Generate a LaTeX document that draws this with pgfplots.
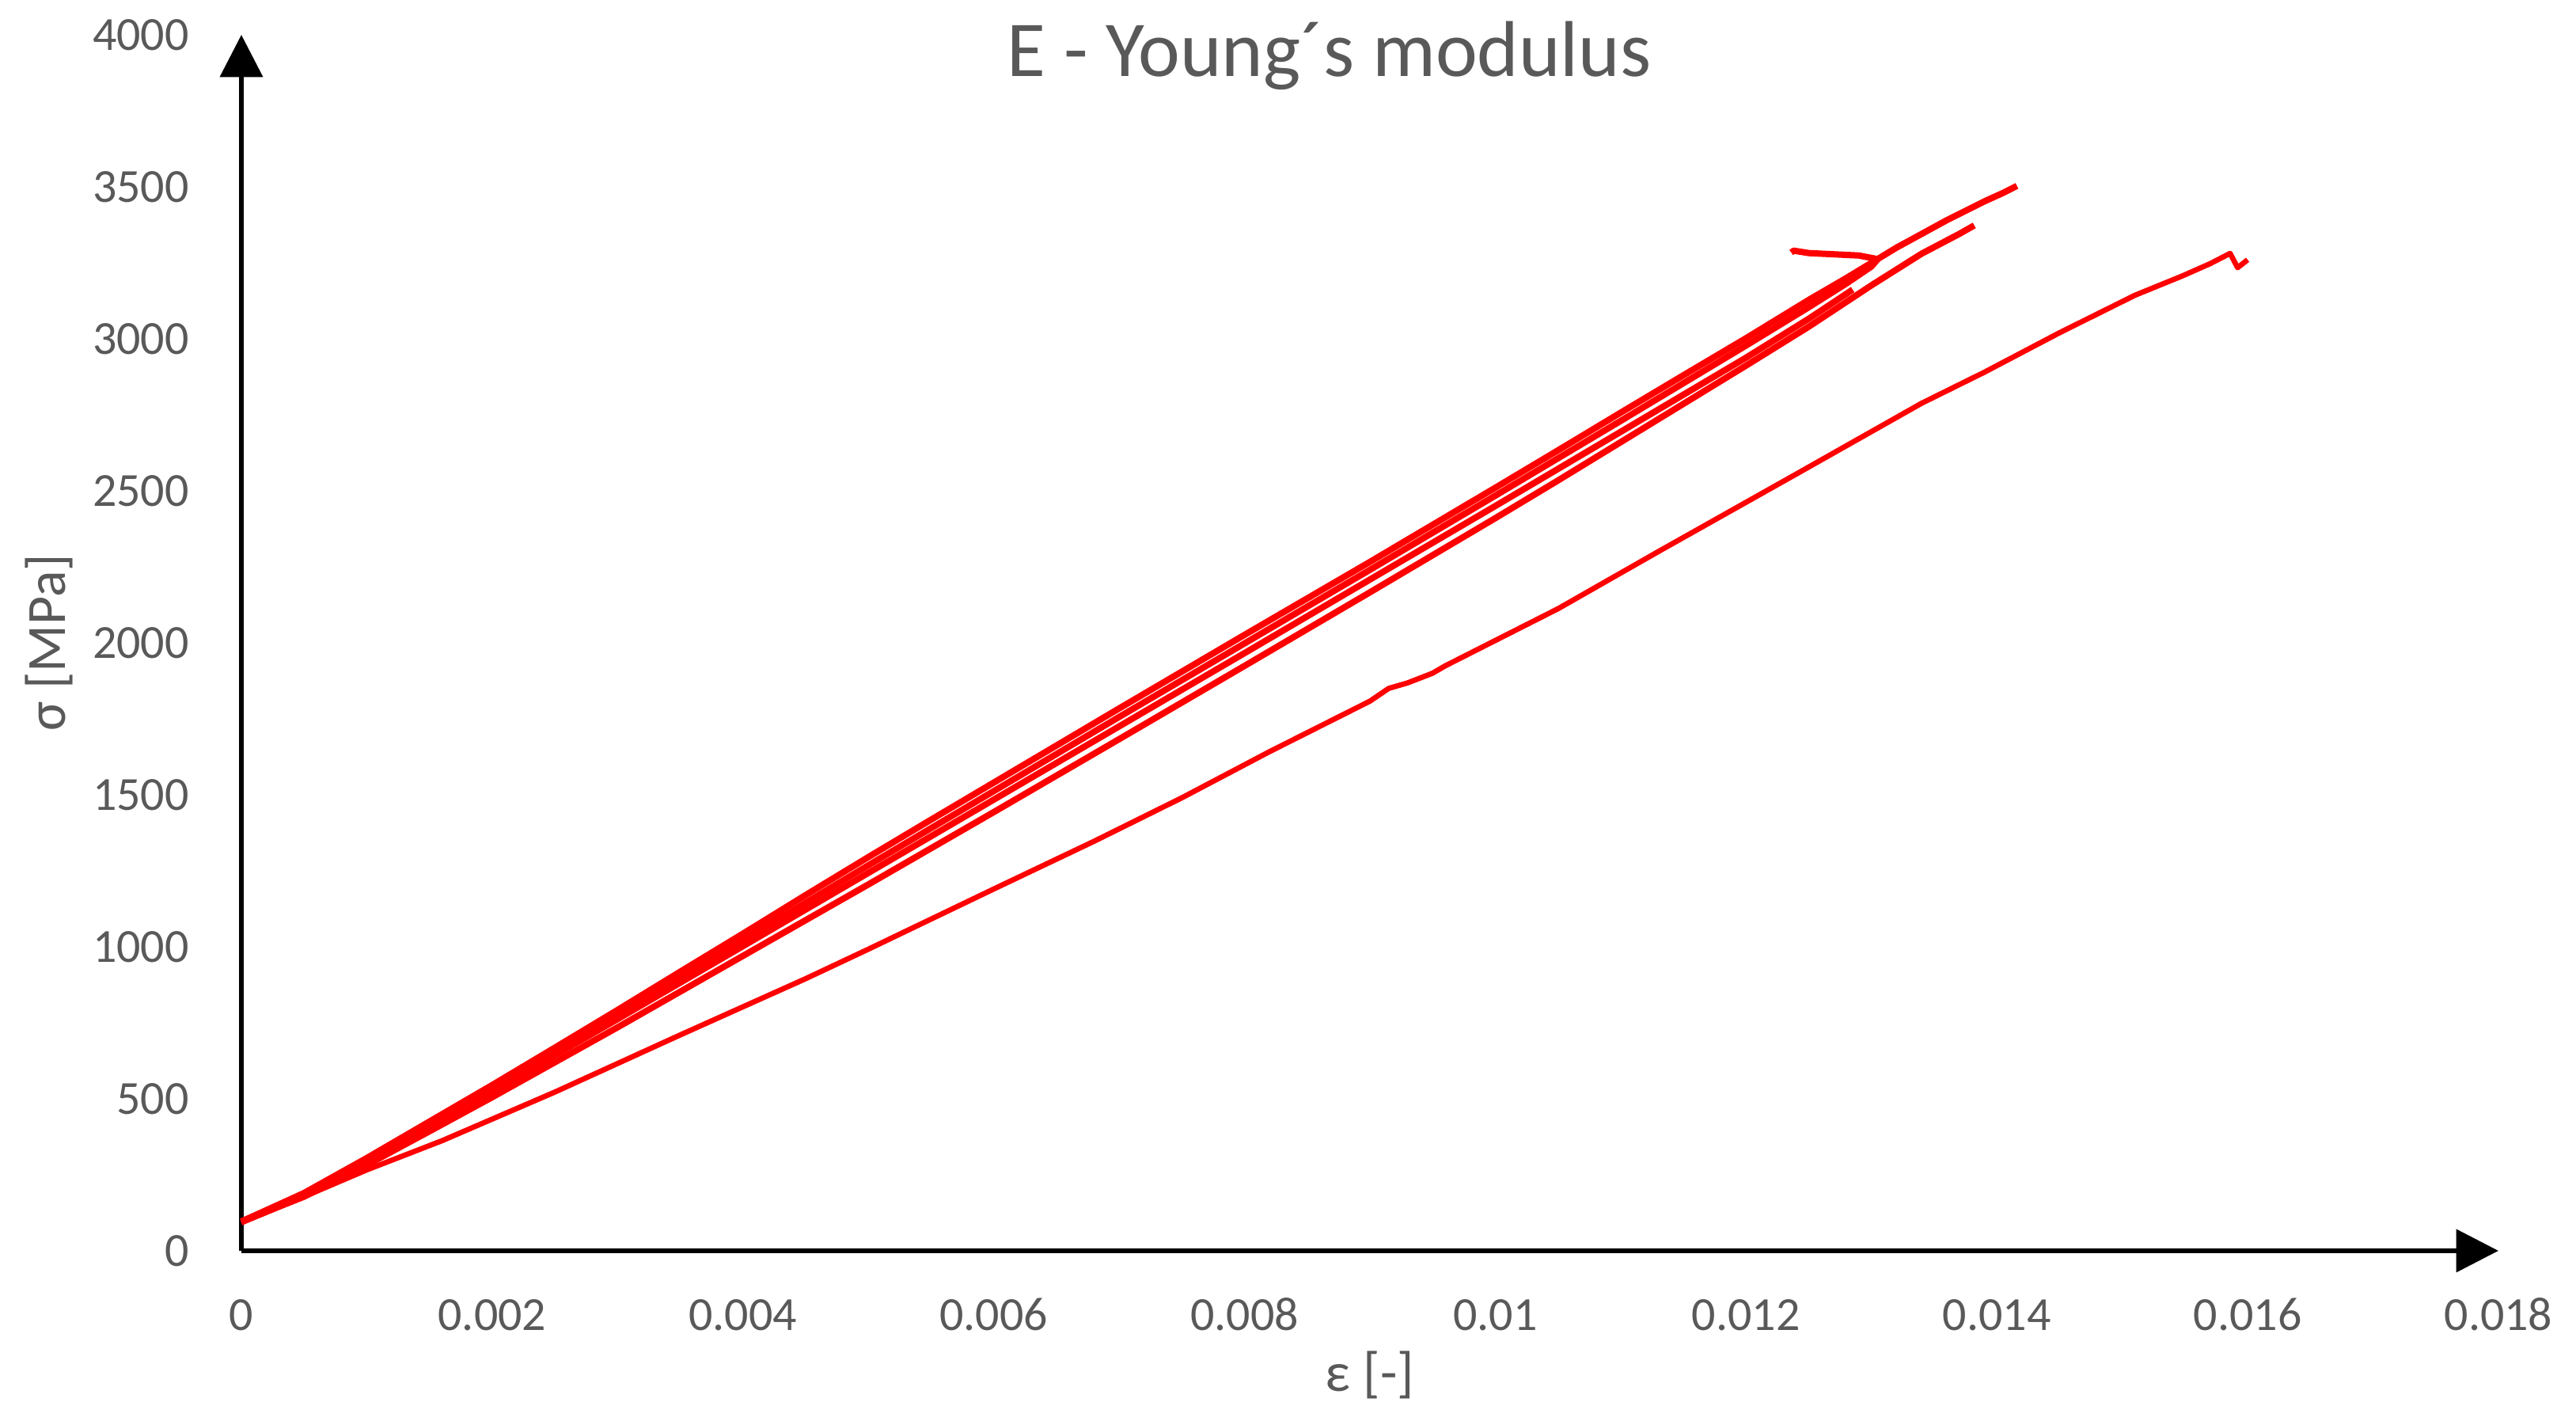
\documentclass[border=0pt]{standalone}
\usepackage{pgfplots}
\pgfplotsset{compat=1.18}
\usepackage{fontspec}
\setmainfont{Carlito}
\usetikzlibrary{arrows.meta}
\definecolor{txt}{RGB}{89,89,89}
\begin{document}
\begin{tikzpicture}
\useasboundingbox (-45.75pt,-32.25pt) rectangle (442.5pt,237pt);
\begin{axis}[
  at={(0pt,0pt)}, anchor=south west,
  scale only axis, width=427.8pt, height=230.4pt,
  xmin=0, xmax=0.018, ymin=0, ymax=4000,
  axis lines=left,
  axis line style={line width=0.9pt, black, -{Triangle[width=8pt,length=8pt]}},
  major tick length=0pt,
  xtick={0,0.002,0.004,0.006,0.008,0.01,0.012,0.014,0.016,0.018},
  xticklabels={0,0.002,0.004,0.006,0.008,0.01,0.012,0.014,0.016,0.018},
  ytick={0,500,1000,1500,2000,2500,3000,3500,4000},
  yticklabels={0,500,1000,1500,2000,2500,3000,3500,4000},
  tick label style={font=\fontsize{9}{10}\selectfont, text=txt},
  xticklabel style={anchor=base, yshift=-15.15pt},
  yticklabel style={anchor=east, inner sep=0pt, xshift=-9.75pt},
  xlabel={ε [-]}, ylabel={σ [MPa]},
  label style={font=\fontsize{10.5}{12}\selectfont, text=txt},
  xlabel style={at={([yshift=-23.6pt]rel axis cs:0.5,0)}, anchor=center},
  ylabel style={at={([xshift=-36.5pt]rel axis cs:0,0.5)}, anchor=center},
  clip=false,
]
% specimen A (highest)
\addplot[red, line width=1.2pt, line join=round, no markers] coordinates {(0,96) (0.0005,190) (0.001,305) (0.0015,425) (0.002,545) (0.0025,668) (0.003,792) (0.0035,918) (0.004,1043) (0.0045,1170) (0.005,1295) (0.0055,1418) (0.006,1540) (0.0065,1662) (0.007,1784) (0.0075,1905) (0.008,2026) (0.0085,2146) (0.009,2266) (0.0095,2388) (0.010,2510) (0.0105,2633) (0.011,2757) (0.0115,2880) (0.012,3002) (0.0125,3128) (0.0128,3200) (0.0132,3300) (0.0136,3390) (0.0139,3452) (0.01405,3480) (0.01416,3503)};
% specimen C (with hook)
\addplot[red, line width=1.2pt, line join=round, no markers] coordinates {(0,96) (0.0005,186) (0.001,298) (0.0015,416) (0.002,535) (0.003,778) (0.004,1022) (0.005,1268) (0.006,1512) (0.007,1756) (0.008,1998) (0.009,2240) (0.010,2484) (0.011,2730) (0.012,2978) (0.0125,3104) (0.0128,3182) (0.013,3238) (0.01305,3262) (0.0129,3274) (0.0127,3278) (0.0125,3282) (0.01238,3290) (0.01236,3284)};
% specimen D
\addplot[red, line width=1.2pt, line join=round, no markers] coordinates {(0,96) (0.0005,183) (0.001,292) (0.0015,407) (0.002,524) (0.003,762) (0.004,1002) (0.005,1243) (0.006,1484) (0.007,1725) (0.008,1966) (0.009,2208) (0.010,2450) (0.011,2694) (0.012,2938) (0.0125,3066) (0.0128,3148) (0.01285,3162)};
% specimen B
\addplot[red, line width=1.2pt, line join=round, no markers] coordinates {(0,96) (0.0005,178) (0.001,282) (0.0015,393) (0.002,505) (0.003,735) (0.004,970) (0.005,1205) (0.006,1443) (0.007,1683) (0.008,1924) (0.009,2166) (0.010,2410) (0.0105,2534) (0.011,2660) (0.0115,2786) (0.012,2912) (0.0125,3040) (0.013,3176) (0.0134,3280) (0.0137,3345) (0.01382,3373)};
% specimen E (shallow)
\addplot[red, line width=1pt, line join=round, no markers] coordinates {(0,92) (0.0005,178) (0.001,266) (0.0016,362) (0.0025,522) (0.0035,710) (0.0045,895) (0.005,992) (0.006,1190) (0.0068,1347) (0.0075,1490) (0.0082,1642) (0.009,1808) (0.00915,1850) (0.0093,1868) (0.0095,1900) (0.0096,1924) (0.0105,2112) (0.0113,2300) (0.0124,2555) (0.0134,2788) (0.0139,2890) (0.0145,3020) (0.0151,3143) (0.01548,3207) (0.0157,3247) (0.01586,3281) (0.01592,3234) (0.0160,3260)};
\node[anchor=base, font=\fontsize{15}{18}\selectfont, text=txt] at (rel axis cs:0.482,0.9655) {E - Young´s modulus};
\end{axis}
\end{tikzpicture}
\end{document}
